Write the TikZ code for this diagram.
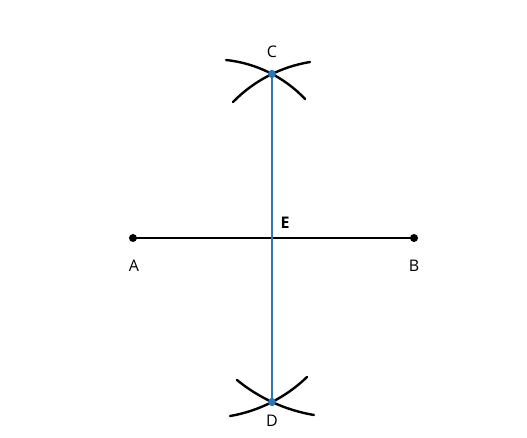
\documentclass[tikz,border=0pt]{standalone}
\usepackage{fontspec}
\setmainfont{Open Sans}
\usetikzlibrary{positioning}

\definecolor{segblue}{RGB}{46,117,182}

\begin{document}
\begin{tikzpicture}[x=1pt, y=1pt,
    dot/.style={circle, fill=black, inner sep=0pt, minimum size=8pt},
    bluedot/.style={circle, fill=segblue, inner sep=0pt, minimum size=8pt},
    lbl/.style={inner sep=0pt, font=\fontsize{16}{18}\selectfont},
    arcline/.style={line width=2.4pt, line cap=round}]

  \useasboundingbox (0,0) rectangle (527,437);

  % points
  \node[dot]     (A) at (133,199) {};
  \node[dot]     (B) at (414,199) {};
  \node[bluedot] (C) at (272,363) {};
  \node[bluedot] (D) at (272,35)  {};
  \coordinate (E) at (272,199);

  % segments
  \draw[line width=2.2pt] (A.center) -- (B.center);
  \draw[segblue, line width=2.4pt] (C.center) -- (D.center);

  % compass arcs at C
  \draw[arcline] (226,377) arc[start angle=84, end angle=43.5, radius=127.4];
  \draw[arcline] (310,375) arc[start angle=99.3, end angle=135.6, radius=139.2];

  % compass arcs at D
  \draw[arcline] (237,57) arc[start angle=230.6, end angle=260.5, radius=163.8];
  \draw[arcline] (307,60) arc[start angle=-46, end angle=-80.2, radius=146.7];

  % redraw dots on top
  \node[bluedot] at (C) {};
  \node[bluedot] at (D) {};

  % labels
  \node[lbl] (lA) at (134,171) {A};
  \node[lbl] (lB) at (414,171) {B};
  \node[lbl] (lC) at (272,385) {C};
  \node[lbl] (lD) at (272,16)  {D};
  \node[lbl, font=\fontsize{16}{18}\selectfont\bfseries] (lE) at (285,214) {E};

\end{tikzpicture}
\end{document}
